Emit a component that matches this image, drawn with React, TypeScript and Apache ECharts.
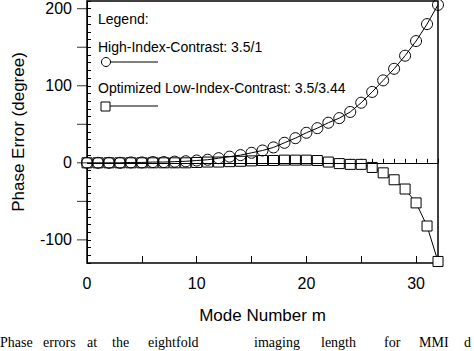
import React, { useEffect, useRef } from "react";
import * as echarts from "echarts";

const modeNumbers = [0, 1, 2, 3, 4, 5, 6, 7, 8, 9, 10, 11, 12, 13, 14, 15, 16, 17, 18, 19, 20, 21, 22, 23, 24, 25, 26, 27, 28, 29, 30, 31, 32];
const highIndexContrast = [0, 0, 0, 0, 0.5, 0.5, 1, 1, 1.5, 2, 3, 4, 6, 8, 10, 13, 16, 20, 26, 32, 39, 45, 52, 58, 66, 78, 92, 107, 122, 139, 158, 180, 205];
const lowIndexContrast = [0, 0, 0, 0, 0, 0, 0, 0, 0, 0, 0.5, 1, 1, 1.5, 2, 2.5, 3, 3, 3.5, 3.5, 3.5, 3, 1, -1, -2, -2, -6, -13, -22, -34, -52, -82, -128];
const yMajorTicks = [-100, -50, 0, 50, 100, 150, 200];
const yLabelValues = [-100, 0, 100, 200];
const xLabelValues = [0, 10, 20, 30];
const captionWords = ["Phase", "errors", "at", "the", "eightfold", "imaging", "length", "for", "MMI", "d"];
const captionX = [0, 43, 87, 112, 148, 254, 321, 384, 419, 464];

const SANS = "'Liberation Sans', Arial, Helvetica, sans-serif";
const SERIF = "'Liberation Serif', 'Times New Roman', serif";

export default function App() {
  const ref = useRef<HTMLDivElement>(null);
  useEffect(() => {
    if (!ref.current) return;
    const chart = echarts.init(ref.current, undefined, { renderer: "svg" });
    const black = "#000";
    const option: any = {
      animation: false,
      backgroundColor: "#fff",
      textStyle: { fontFamily: SANS, color: black },
      grid: { left: 87, right: 36, top: 1, bottom: 88, show: true, borderColor: black, borderWidth: 1.5, backgroundColor: "transparent" },
      xAxis: [
        {
          type: "value",
          min: 0,
          max: 32,
          interval: 1,
          name: "Mode Number m",
          nameLocation: "middle",
          nameGap: 44,
          nameTextStyle: { fontSize: 17, color: black, fontFamily: SANS },
          axisLine: { show: true, lineStyle: { color: black, width: 1 } },
          axisTick: { show: true, inside: true, length: 4, lineStyle: { color: black } },
          axisLabel: {
            fontSize: 16,
            color: black,
            fontFamily: SANS,
            margin: 12,
            formatter: (v: number) => (xLabelValues.includes(v) ? String(v) : ""),
          },
          splitLine: { show: false },
        },
        {
          type: "value",
          min: 0,
          max: 32,
          interval: 5,
          position: "bottom",
          axisLine: { show: false },
          axisTick: { show: true, inside: true, length: 7, lineStyle: { color: black } },
          axisLabel: { show: false },
          splitLine: { show: false },
        },
      ],
      yAxis: {
        type: "value",
        min: -130,
        max: 210,
        interval: 10,
        name: "Phase Error (degree)",
        nameLocation: "middle",
        nameGap: 60,
        nameTextStyle: { fontSize: 17, color: black, fontFamily: SANS },
        axisLine: { show: true, lineStyle: { color: black, width: 1 } },
        axisTick: { show: true, inside: true, length: 4, lineStyle: { color: black } },
        axisLabel: {
          fontSize: 16,
          color: black,
          fontFamily: SANS,
          margin: 15,
          formatter: (v: number) => (yLabelValues.includes(v) ? String(v) : ""),
        },
        splitLine: { show: false },
      },
      series: [
        {
          type: "line",
          name: "Optimized Low-Index-Contrast: 3.5/3.44",
          data: modeNumbers.map((m, i) => [m, lowIndexContrast[i]]),
          symbol: "rect",
          symbolSize: 10,
          showAllSymbol: true,
          lineStyle: { color: black, width: 1 },
          itemStyle: { color: "#fff", borderColor: black, borderWidth: 1 },
          markLine: {
            silent: true,
            symbol: "none",
            label: { show: false },
            lineStyle: { color: black, width: 1, type: "solid" },
            data: [{ yAxis: 0 }],
          },
          z: 3,
        },
        {
          type: "line",
          name: "High-Index-Contrast: 3.5/1",
          data: modeNumbers.map((m, i) => [m, highIndexContrast[i]]),
          symbol: "circle",
          symbolSize: 11,
          showAllSymbol: true,
          lineStyle: { color: black, width: 1 },
          itemStyle: { color: "rgba(255,255,255,0)", borderColor: black, borderWidth: 1 },
          clip: false,
          z: 4,
        },
        {
          type: "scatter",
          silent: true,
          data: yMajorTicks.map((v) => [0, v]),
          symbol: "rect",
          symbolSize: [10, 1],
          symbolOffset: [-5, 0],
          itemStyle: { color: black },
          clip: false,
          z: 5,
        },
      ],
      graphic: [
        { type: "text", left: 98, top: 12, style: { text: "Legend:", fontSize: 14, fontFamily: SANS, fill: black } },
        { type: "text", left: 98, top: 40, style: { text: "High-Index-Contrast: 3.5/1", fontSize: 14, fontFamily: SANS, fill: black } },
        { type: "line", shape: { x1: 106, y1: 62, x2: 158, y2: 62 }, style: { stroke: black, lineWidth: 1 } },
        { type: "circle", shape: { cx: 106, cy: 62, r: 4.5 }, style: { fill: "#fff", stroke: black, lineWidth: 1 } },
        { type: "text", left: 98, top: 81, style: { text: "Optimized Low-Index-Contrast: 3.5/3.44", fontSize: 14, fontFamily: SANS, fill: black } },
        { type: "line", shape: { x1: 106, y1: 106, x2: 158, y2: 106 }, style: { stroke: black, lineWidth: 1 } },
        { type: "rect", shape: { x: 101, y: 102, width: 9, height: 9 }, style: { fill: "#fff", stroke: black, lineWidth: 1 } },
        ...captionWords.map((w, i) => ({
          type: "text",
          left: captionX[i],
          top: 335,
          style: { text: w, fontSize: 14, fontFamily: SERIF, fill: black },
        })),
      ],
    };
    chart.setOption(option);
    return () => chart.dispose();
  }, []);
  return (
    <div
      ref={ref}
      style={{ position: "fixed", left: 0, top: 0, width: 474, height: 351, background: "#fff" }}
    />
  );
}
